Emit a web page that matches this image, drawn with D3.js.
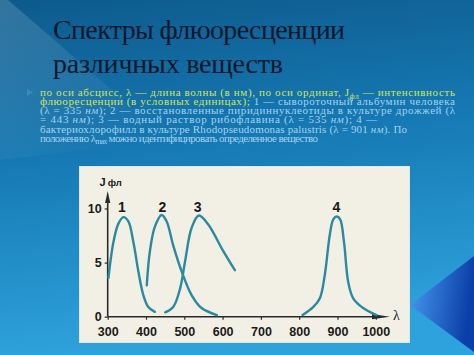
<!DOCTYPE html>
<html>
<head>
<meta charset="utf-8">
<script src="https://cdn.jsdelivr.net/npm/d3@7"></script>
<style>
  html, body { margin: 0; padding: 0; background: #1a78b0; }
  svg { display: block; }
  .serif { font-family: 'Liberation Serif', 'DejaVu Serif', serif; }
  .sans { font-family: 'Liberation Sans', Arial, sans-serif; }
</style>
</head>
<body>
<svg width="474" height="355"></svg>
<script>
// wavelength, nm
var ticksX = [300, 400, 500, 600, 700, 800, 900, 1000];
var ticksY = [0, 5, 10];

// curve 1 - serum albumin
var wave1 = [302, 315, 328, 341, 354, 367, 380, 393, 406, 423];
var int1  = [3.6, 6.9, 8.6, 9.2, 8.8, 6.9, 4.2, 2.0, 0.9, 0.45];
// curve 2 - pyridine nucleotides
var wave2 = [402, 410, 423, 441, 454, 471, 493, 519, 545, 585];
var int2  = [2.9, 6.0, 8.3, 9.4, 8.8, 6.6, 4.2, 2.0, 0.8, 0.15];
// curve 3 - riboflavin
var wave3 = [450, 471, 489, 502, 519, 538, 563, 598, 632];
var int3  = [0.4, 0.9, 2.6, 5.1, 8.2, 9.35, 8.5, 6.3, 4.3];
// curve 4 - bacteriochlorophyll
var wave4 = [809, 837, 854, 867, 880, 889, 898, 907, 917, 928, 941, 967, 1002];
var int4  = [0.15, 0.9, 1.7, 3.9, 7.6, 9.0, 9.26, 9.0, 6.9, 3.2, 1.7, 0.8, 0.15];

var curveLabels = ['1', '2', '3', '4'];
var peakAt = [337, 443, 535, 897];

var svg = d3.select('svg'),
    width = 474,
    height = 355;

var defs = svg.append('defs');
var bg = defs.append('linearGradient').attr('id', 'bg')
    .attr('x1', 0).attr('y1', 0).attr('x2', 0.15).attr('y2', 1);
bg.append('stop').attr('offset', '0%').attr('stop-color', '#0d5a8c');
bg.append('stop').attr('offset', '45%').attr('stop-color', '#1679b3');
bg.append('stop').attr('offset', '100%').attr('stop-color', '#2ea2dc');

var tri = defs.append('linearGradient').attr('id', 'tri')
    .attr('x1', 0).attr('y1', 0).attr('x2', 1).attr('y2', 0.2);
tri.append('stop').attr('offset', '0%').attr('stop-color', '#4a9cf0');
tri.append('stop').attr('offset', '100%').attr('stop-color', '#0a3ea8');

var shine = defs.append('linearGradient').attr('id', 'shine')
    .attr('x1', 0).attr('y1', 0).attr('x2', 0.6).attr('y2', 1);
shine.append('stop').attr('offset', '0%').attr('stop-color', '#fff').attr('stop-opacity', 0.16);
shine.append('stop').attr('offset', '100%').attr('stop-color', '#fff').attr('stop-opacity', 0);

svg.append('rect').attr('width', width).attr('height', height).attr('fill', 'url(#bg)');
svg.append('polygon').attr('points', '0,0 8,0 170,140 0,160').attr('fill', 'url(#shine)');
svg.append('polygon').attr('points', '410,305 474,256 474,352').attr('fill', 'url(#tri)');

// faint bullet
svg.append('polygon').attr('points', '27,89 33,92.5 27,96').attr('fill', '#3f93c9').attr('opacity', 0.7);

// title
var title = svg.append('g')
    .attr('class', 'serif')
    .attr('font-size', 28)
    .attr('fill', '#08182c');
title.append('text').attr('x', 53).attr('y', 39)
    .attr('textLength', 292).attr('lengthAdjust', 'spacing').text('Спектры флюоресценции');
title.append('text').attr('x', 53).attr('y', 73)
    .attr('textLength', 230).attr('lengthAdjust', 'spacing').text('различных веществ');

// caption
var yellow = '#d2e45a', pale = '#a2d3f0';
var cap = svg.append('g')
    .attr('class', 'serif')
    .attr('font-size', 11);

function line(y, len, parts) {
    var t = cap.append('text').attr('x', 40).attr('y', y);
    if (len) t.attr('textLength', len).attr('lengthAdjust', 'spacing');
    parts.forEach(function (p) {
        var s = t.append('tspan').attr('fill', p[1]).text(p[0]);
        if (p[2] == 'i') s.attr('font-style', 'italic');
        if (p[2] == 'sub') s.attr('font-size', 7.5).attr('dy', 2.5);
        if (p[2] == 'up') s.attr('dy', -2.5);
    });
}
line(96, 415, [['по оси абсцисс, λ — длина волны (в нм), по оси ординат, J', yellow], ['фл', yellow, 'sub'], [' — интенсивность', yellow, 'up']]);
line(105.3, 415, [['флюоресценции (в условных единицах);', yellow], [' 1 — сывороточный альбумин человека', pale]]);
line(114.3, 415, [['(λ = 335 ', pale], ['нм', pale, 'i'], ['); 2 — восстановленные пиридиннуклеотиды в культуре дрожжей (λ', pale]]);
line(123.3, 337, [['= 443 ', pale], ['нм', pale, 'i'], ['); 3 — водный раствор рибофлавина (λ = 535 ', pale], ['нм', pale, 'i'], ['); 4 —', pale]]);
line(132.7, 367, [['бактериохлорофилл в культуре Rhodopseudomonas palustris (λ = 901 ', pale], ['нм', pale, 'i'], ['). По', pale]]);
line(141.7, 278, [['положению λ', pale], ['max', pale, 'sub'], [' можно идентифицировать определенное вещество', pale, 'up']]);

// chart panel
svg.append('rect')
    .attr('x', 79.5).attr('y', 166.5).attr('width', 330).attr('height', 176)
    .attr('fill', '#f2efe4').attr('stroke', '#dfe6ea').attr('stroke-width', 1);

var x = d3.scaleLinear().domain([300, 1000]).range([107.7, 375.8]);
var y = d3.scaleLinear().domain([0, 10]).range([316.7, 208.5]);

var ink = '#2b2b2b';
var gx = svg.append('g').attr('transform', 'translate(0,' + y(0) + ')')
    .call(d3.axisBottom(x).tickValues(ticksX).tickFormat(d3.format('d')).tickSize(3).tickPadding(7));
var gy = svg.append('g').attr('transform', 'translate(' + x(300) + ',0)')
    .call(d3.axisLeft(y).tickValues(ticksY).tickFormat(d3.format('d')).tickSize(3).tickPadding(3));
[gx, gy].forEach(function (g) {
    g.select('.domain').remove();
    g.selectAll('line').attr('stroke', ink).attr('stroke-width', 1.2);
    g.selectAll('text')
        .attr('font-family', null).attr('class', 'sans')
        .attr('font-weight', 'bold').attr('font-size', 12.5).attr('fill', '#1a1a1a');
});

// axis lines with arrows
svg.append('line').attr('x1', x(300)).attr('x2', 376).attr('y1', y(0)).attr('y2', y(0))
    .attr('stroke', ink).attr('stroke-width', 1.6);
svg.append('polygon')
    .attr('points', [[372, y(0) - 2.6], [390, y(0)], [372, y(0) + 2.6]].join(' '))
    .attr('fill', ink);
svg.append('line').attr('x1', x(300)).attr('x2', x(300)).attr('y1', y(0)).attr('y2', 200)
    .attr('stroke', ink).attr('stroke-width', 1.6);
svg.append('polygon')
    .attr('points', [[x(300) - 2.6, 203], [x(300), 191], [x(300) + 2.6, 203]].join(' '))
    .attr('fill', ink);

svg.append('text').attr('x', 393).attr('y', 320)
    .attr('class', 'serif').attr('font-size', 14)
    .attr('fill', '#1a1a1a').text('λ');
var jl = svg.append('text').attr('x', 99.5).attr('y', 185.5)
    .attr('class', 'sans').attr('font-weight', 'bold')
    .attr('fill', '#1a1a1a');
jl.append('tspan').attr('font-size', 11).text('J');
jl.append('tspan').attr('font-size', 9.5).attr('dx', 2).text('фл');

// curves
var series = [[wave1, int1], [wave2, int2], [wave3, int3], [wave4, int4]];
var path = d3.line()
    .x(function (d) { return x(d[0]); })
    .y(function (d) { return y(d[1]); })
    .curve(d3.curveCatmullRom.alpha(0.5));

svg.append('g').selectAll('path')
    .data(series)
    .enter().append('path')
    .attr('d', function (s) { return path(d3.zip(s[0], s[1])); })
    .attr('fill', 'none')
    .attr('stroke', '#2a8a9f')
    .attr('stroke-width', 2.4)
    .attr('stroke-linecap', 'round');

svg.append('g').selectAll('text')
    .data(curveLabels)
    .enter().append('text')
    .attr('x', function (d, i) { return x(peakAt[i]); })
    .attr('y', 212)
    .attr('text-anchor', 'middle')
    .attr('class', 'sans')
    .attr('font-weight', 'bold').attr('font-size', 14)
    .attr('fill', '#1a1a1a')
    .text(function (d) { return d; });
</script>
</body>
</html>
